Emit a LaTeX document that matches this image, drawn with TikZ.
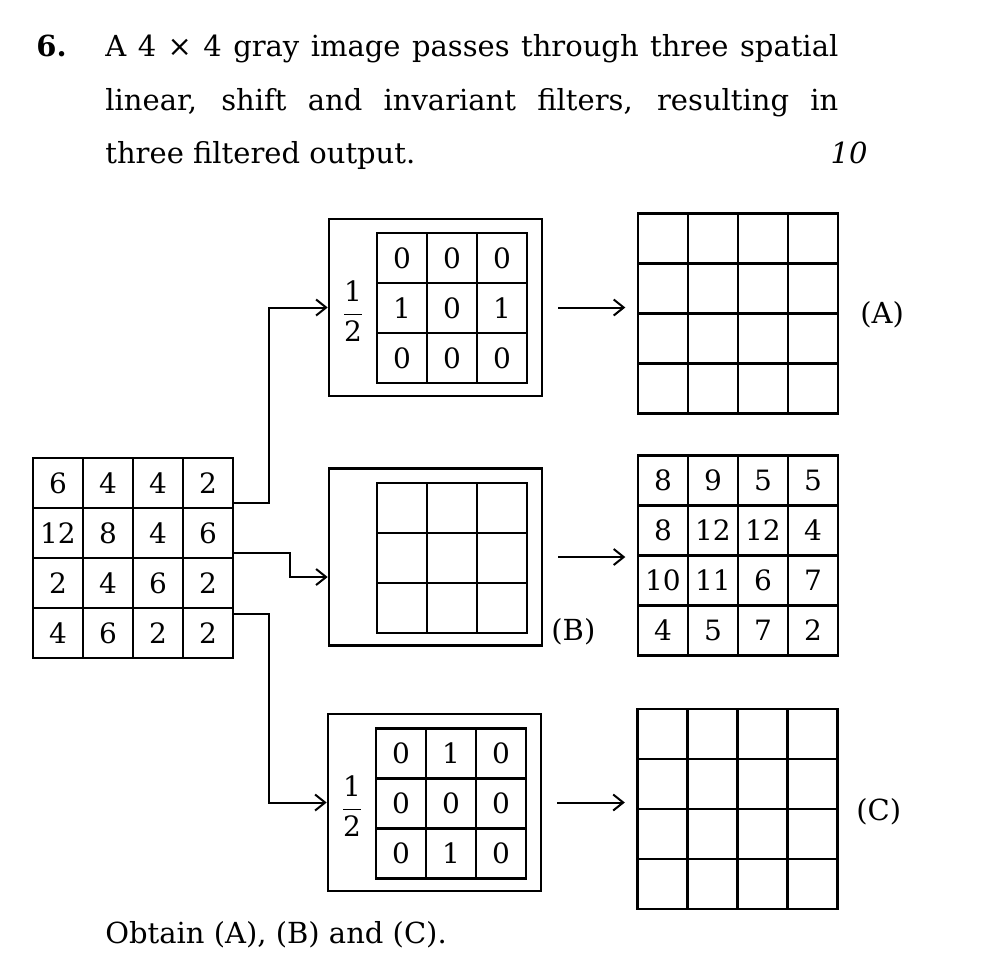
\documentclass[tikz,border=0pt]{standalone}
\usepackage{fontspec}
\setmainfont{DejaVu Serif}
\usetikzlibrary{matrix, arrows.meta, positioning}

\newcommand{\cellfont}{\fontsize{14}{16}\selectfont}
\newcommand{\txtfont}{\fontsize{14.5}{17}\selectfont}

\begin{document}
\begin{tikzpicture}[
  x=0.5pt, y=-0.5pt,
  cell/.style={draw, line width=1.3pt, minimum width=25pt, minimum height=25pt, inner sep=0pt, anchor=center, font=\cellfont},
  grid/.style={matrix of nodes, nodes in empty cells, nodes={cell}, column sep=-1.3pt, row sep=-1.3pt, inner sep=0pt},
  filterbox/.style={rectangle, draw, line width=1.3pt, minimum width=106.5pt, minimum height=88.5pt, inner sep=0pt},
  link/.style={line width=1pt, -{Straight Barb[length=5pt, width=8pt]}},
  para/.style={anchor=base west, inner sep=0pt, font=\txtfont},
  tag/.style={anchor=west, inner sep=0pt, font=\txtfont},
]
\useasboundingbox (0,0) rectangle (981,966);

% question text
\node[para] (num) at (36,56) {\textbf{6.}};
\node[para] (line1) at (105,56) {\makebox[366.5pt][s]{A 4 × 4 gray image passes through three spatial}};
\node[para] (line2) at (105,110) {\makebox[366.5pt][s]{linear, shift and invariant filters, resulting in}};
\node[para] (line3) at (105,163) {three filtered output.};
\node[para, anchor=base east] (marks) at (868,163) {\textit{10}};

% input image
\matrix (img) at (133,558) [grid] {
  6 & 4 & 4 & 2 \\
  12 & 8 & 4 & 6 \\
  2 & 4 & 6 & 2 \\
  4 & 6 & 2 & 2 \\
};

% filter A
\node[filterbox] (fa) at (435.5,307.5) {};
\matrix (fam) at (452,308) [grid] {
  0 & 0 & 0 \\
  1 & 0 & 1 \\
  0 & 0 & 0 \\
};
\node[font=\cellfont, inner sep=0pt] (halfa) at (353,311) {$\displaystyle\frac{\mbox{1}}{\mbox{2}}$};

% filter B
\node[filterbox] (fb) at (435.5,557) {};
\matrix (fbm) at (452,558) [grid] {
  & & \\
  & & \\
  & & \\
};
\node[tag] (tagb) at (551,632) {(B)};

% filter C
\node[filterbox] (fc) at (434.5,802.5) {};
\matrix (fcm) at (451,803.5) [grid] {
  0 & 1 & 0 \\
  0 & 0 & 0 \\
  0 & 1 & 0 \\
};
\node[font=\cellfont, inner sep=0pt] (halfc) at (352,806) {$\displaystyle\frac{\mbox{1}}{\mbox{2}}$};

% outputs
\matrix (outa) at (738,313.5) [grid] {
  & & & \\
  & & & \\
  & & & \\
  & & & \\
};
\node[tag] (taga) at (860,315) {(A)};

\matrix (outb) at (738,555.5) [grid] {
  8 & 9 & 5 & 5 \\
  8 & 12 & 12 & 4 \\
  10 & 11 & 6 & 7 \\
  4 & 5 & 7 & 2 \\
};

\matrix (outc) at (737.5,809) [grid] {
  & & & \\
  & & & \\
  & & & \\
  & & & \\
};
\node[tag] (tagc) at (856,812) {(C)};

% connectors
\draw[link] ([yshift=3pt]img-1-4.south east) -- ++(35,0) |- (fa.west);
\draw[link] ([yshift=3pt]img-2-4.south east) -- ++(56,0) |- ([yshift=-10pt]fb.west);
\draw[link] ([yshift=-2.5pt]img-3-4.south east) -- ++(35,0) |- (fc.west);

\draw[link] ([xshift=7.5pt]fa.east) -- ([xshift=-5.5pt]outa.west |- fa.east);
\draw[link] ([xshift=7.5pt]fb.east) -- ([xshift=-5.5pt]outb.west |- fb.east);
\draw[link] ([xshift=7.5pt]fc.east) -- ([xshift=-5.5pt]outc.west |- fc.east);

\node[para] (ask) at (105,943) {Obtain (A), (B) and (C).};
\end{tikzpicture}
\end{document}
